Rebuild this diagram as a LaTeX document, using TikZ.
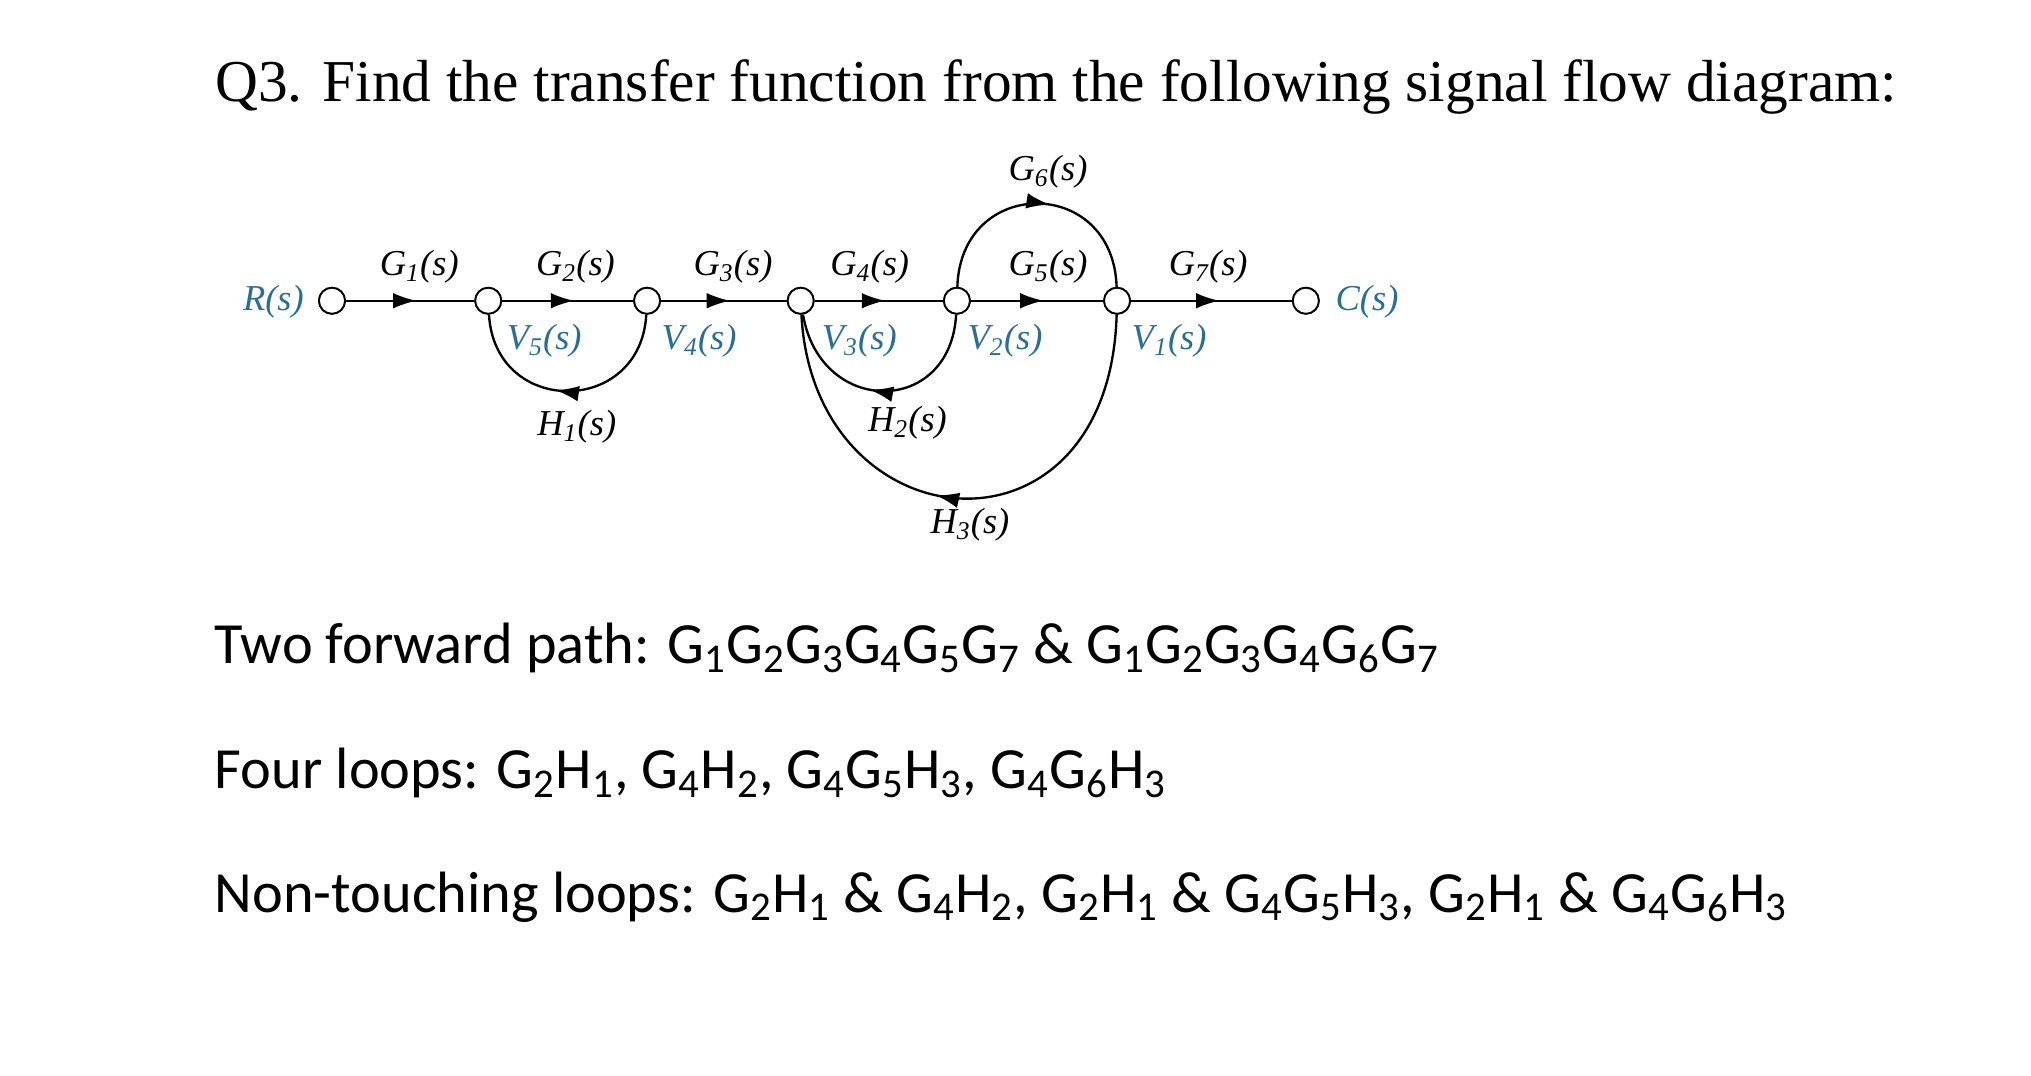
\documentclass[tikz,border=0pt]{standalone}
\usepackage{fontspec}
\setmainfont{Liberation Serif}
\newfontfamily\bodyf{Carlito}
\usetikzlibrary{decorations.markings,arrows.meta}
\definecolor{vblue}{RGB}{40,110,150}
\tikzset{
  sn/.style={circle,draw,line width=0.7pt,minimum size=10pt,inner sep=0pt,fill=white},
  br/.style={line width=0.9pt,postaction={decorate},decoration={markings,mark=at position 0.55 with {\arrow{Latex[length=9pt,width=6pt]}}}},
  gl/.style={font=\fontsize{14}{14}\selectfont\itshape},
  vl/.style={gl,text=vblue},
  tx/.style={anchor=base west,font=\bodyf\fontsize{22.4}{23}\selectfont}
}
\begin{document}
\begin{tikzpicture}[x=0.5pt,y=-0.5pt]
\useasboundingbox (0,0) rectangle (1560,826);
\node[anchor=base west,inner sep=0pt,font=\fontsize{22.8}{23}\selectfont] (t) at (165,78) {Q3. Find the transfer function from the following signal flow diagram:};
\node[sn] (r) at (255,231) {};
\node[sn] (a) at (375,231) {};
\node[sn] (b) at (497,231) {};
\node[sn] (c) at (615,231) {};
\node[sn] (d) at (735,231) {};
\node[sn] (e) at (858,231) {};
\node[sn] (o) at (1003,231) {};
\draw[br] (r) -- (a);
\draw[br] (a) -- (b);
\draw[br] (b) -- (c);
\draw[br] (c) -- (d);
\draw[br] (d) -- (e);
\draw[br] (e) -- (o);
\draw[br] (d) .. controls (738,135) and (855,135) .. (e);
\draw[br] (b) .. controls (492,320) and (380,320) .. (a);
\draw[br] (d) .. controls (730,320) and (630,320) .. (c);
\draw[br] (e) .. controls (852,440) and (625,420) .. (c);
\foreach \n in {r,a,b,c,d,e,o} \node[sn] at (\n) {};
\node[vl] (lr) at (210,232) {R(s)};
\node[vl] (lc) at (1050,232) {C(s)};
\node[gl] (g1) at (322,205) {G\textsubscript{1}(s)};
\node[gl] (g2) at (442,205) {G\textsubscript{2}(s)};
\node[gl] (g3) at (563,205) {G\textsubscript{3}(s)};
\node[gl] (g4) at (668,205) {G\textsubscript{4}(s)};
\node[gl] (g5) at (805,205) {G\textsubscript{5}(s)};
\node[gl] (g7) at (928,205) {G\textsubscript{7}(s)};
\node[gl] (g6) at (805,132) {G\textsubscript{6}(s)};
\node[vl] (v5) at (418,262) {V\textsubscript{5}(s)};
\node[vl] (v4) at (537,262) {V\textsubscript{4}(s)};
\node[vl] (v3) at (660,262) {V\textsubscript{3}(s)};
\node[vl] (v2) at (772,262) {V\textsubscript{2}(s)};
\node[vl] (v1) at (898,262) {V\textsubscript{1}(s)};
\node[gl] (h1) at (443,328) {H\textsubscript{1}(s)};
\node[gl] (h2) at (697,325) {H\textsubscript{2}(s)};
\node[gl] (h3) at (745,403) {H\textsubscript{3}(s)};
\node[tx] (l1) at (158,510) {Two forward path: G\textsubscript{1}G\textsubscript{2}G\textsubscript{3}G\textsubscript{4}G\textsubscript{5}G\textsubscript{7} \& G\textsubscript{1}G\textsubscript{2}G\textsubscript{3}G\textsubscript{4}G\textsubscript{6}G\textsubscript{7}};
\node[tx] (l2) at (158,606) {Four loops: G\textsubscript{2}H\textsubscript{1}, G\textsubscript{4}H\textsubscript{2}, G\textsubscript{4}G\textsubscript{5}H\textsubscript{3}, G\textsubscript{4}G\textsubscript{6}H\textsubscript{3}};
\node[tx] (l3) at (158,701) {Non-touching loops: G\textsubscript{2}H\textsubscript{1} \& G\textsubscript{4}H\textsubscript{2}, G\textsubscript{2}H\textsubscript{1} \& G\textsubscript{4}G\textsubscript{5}H\textsubscript{3}, G\textsubscript{2}H\textsubscript{1} \& G\textsubscript{4}G\textsubscript{6}H\textsubscript{3}};
\end{tikzpicture}
\end{document}
